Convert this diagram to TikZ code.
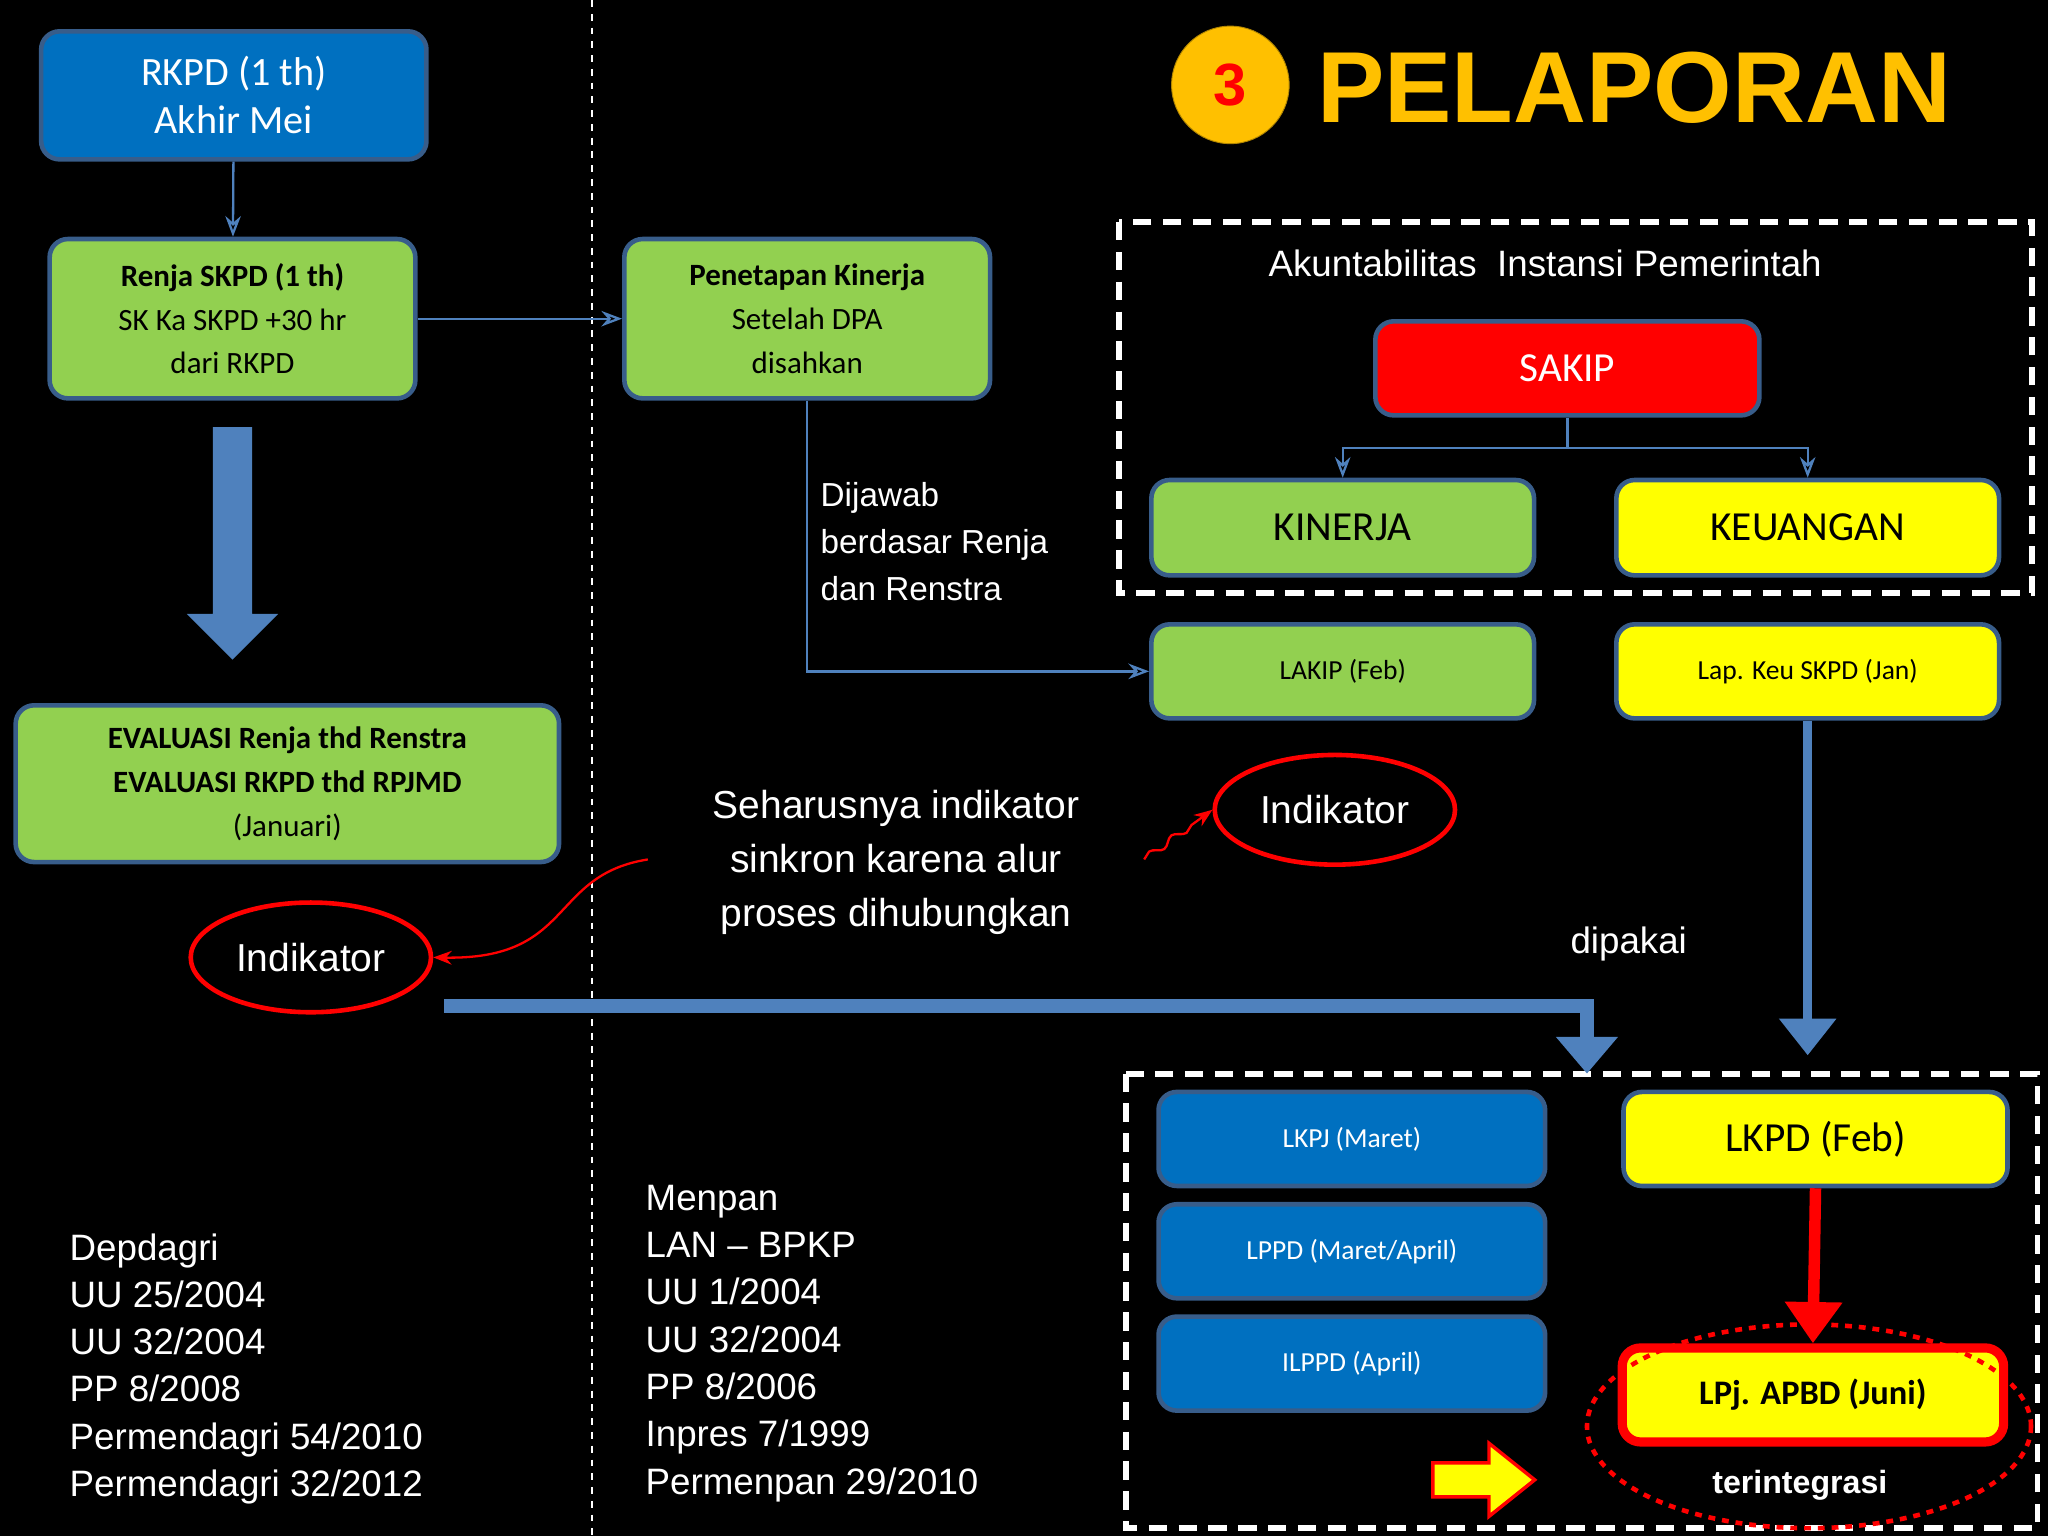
\documentclass[tikz,border=0pt]{standalone}
\usepackage{fontspec}
\setmainfont{Liberation Sans}
\newfontfamily\carl{Carlito}
\usetikzlibrary{arrows.meta,shapes.geometric,decorations.pathmorphing}
\definecolor{bblue}{RGB}{0,112,192}
\definecolor{lgreen}{RGB}{146,208,80}
\definecolor{sblue}{RGB}{79,129,189}
\definecolor{bord}{RGB}{56,93,138}
\definecolor{ylw}{RGB}{255,255,0}
\definecolor{gold}{RGB}{255,192,0}
\tikzset{
 box/.style={draw=bord,line width=2pt,rounded corners=8pt,inner sep=0pt,align=center,font=\carl},
 thin/.style={draw=sblue,line width=1pt,-{Stealth[length=9pt,open]}},
 lbl/.style={text=white,font=\fontsize{16}{20}\selectfont,align=left,anchor=north west,inner sep=0pt},
}
\begin{document}
\begin{tikzpicture}[x=0.02cm,y=-0.02cm]
\fill[black] (0,0) rectangle (1568,1176);
\useasboundingbox (0,0) rectangle (1568,1176);
\draw[white,dashed,line width=1pt] (453,0) -- (453,1176);
% left column
\node[box,fill=bblue,text=white,minimum width=295*0.02cm,minimum height=98*0.02cm,font=\carl\fontsize{17.5}{21}\selectfont] (rkpd) at (179,73) {RKPD (1 th)\\Akhir Mei};
\node[box,fill=lgreen,minimum width=280*0.02cm,minimum height=122*0.02cm,font=\carl\fontsize{13.5}{19}\selectfont] (renja) at (178,244) {\textbf{Renja SKPD (1 th)}\\SK Ka SKPD +30 hr\\dari RKPD};
\draw[thin] (rkpd) -- (renja);
\fill[sblue] (163,327) -- (193,327) -- (193,470) -- (213,470) -- (178,505) -- (143,470) -- (163,470) -- cycle;
\node[box,fill=lgreen,minimum width=416*0.02cm,minimum height=120*0.02cm,font=\carl\fontsize{13.5}{19}\selectfont] (eval) at (220,600) {\textbf{EVALUASI Renja thd Renstra}\\\textbf{EVALUASI RKPD thd RPJMD}\\(Januari)};
\node[ellipse,draw=red,line width=2pt,minimum width=184*0.02cm,minimum height=84*0.02cm,text=white,font=\fontsize{17}{20}\selectfont] (ind1) at (238,733) {Indikator};
% middle
\node[box,fill=lgreen,minimum width=280*0.02cm,minimum height=122*0.02cm,font=\carl\fontsize{13.5}{19}\selectfont] (pen) at (618,244) {\textbf{Penetapan Kinerja}\\Setelah DPA\\disahkan};
\draw[thin] (renja) -- (pen);
\node[lbl,font=\fontsize{14.5}{20.5}\selectfont] (dij) at (628,369) {Dijawab\\berdasar Renja\\dan Renstra};
\node[text=white,align=center,font=\fontsize{17}{23.5}\selectfont] (seh) at (686,660) {Seharusnya indikator\\sinkron karena alur\\proses dihubungkan};
% title
\node[circle,fill=gold,draw=gold!70!black,minimum size=90*0.02cm,text=red,font=\bfseries\fontsize{26}{30}\selectfont] (c3) at (942,65) {3};
\node[anchor=west,text=gold,font=\bfseries\fontsize{44}{50}\selectfont,inner sep=0pt] (title) at (1008,67) {PELAPORAN};
% upper right
\draw[white,dashed,line width=2.5pt,dash pattern=on 8pt off 5pt] (857,170) rectangle (1556,454);
\node[text=white,font=\fontsize{16}{20}\selectfont] (akt) at (1183,202) {Akuntabilitas\ \ Instansi Pemerintah};
\node[box,fill=red,text=white,minimum width=294*0.02cm,minimum height=72*0.02cm,font=\carl\fontsize{18}{21}\selectfont] (sakip) at (1200,282) {SAKIP};
\node[box,fill=lgreen,minimum width=293*0.02cm,minimum height=73*0.02cm,font=\carl\fontsize{18}{21}\selectfont] (kin) at (1028,404) {KINERJA};
\node[box,fill=ylw,minimum width=293*0.02cm,minimum height=73*0.02cm,font=\carl\fontsize{18}{21}\selectfont] (keu) at (1384,404) {KEUANGAN};
\coordinate (sj) at (1200,343);
\draw[sblue,line width=1pt] (sakip) -- (sj);
\draw[thin] (sj) -| (kin);
\draw[thin] (sj) -| (keu);
\node[box,fill=lgreen,minimum width=293*0.02cm,minimum height=72*0.02cm,font=\carl\fontsize{12}{15}\selectfont] (lakip) at (1028,514) {LAKIP (Feb)};
\node[box,fill=ylw,minimum width=293*0.02cm,minimum height=72*0.02cm,font=\carl\fontsize{12}{15}\selectfont] (lapkeu) at (1384,514) {Lap. Keu SKPD (Jan)};
\draw[thin] (pen.south) |- (lakip.west);
\node[ellipse,draw=red,line width=2pt,minimum width=184*0.02cm,minimum height=84*0.02cm,text=white,font=\fontsize{17}{20}\selectfont] (ind2) at (1022,620) {Indikator};
\node[text=white,font=\fontsize{16}{20}\selectfont] (dip) at (1247,723) {dipakai};
% lower right
\draw[white,dashed,line width=2.5pt,dash pattern=on 8pt off 5pt] (862,822) rectangle (1560,1170);
\node[box,fill=bblue,text=white,minimum width=296*0.02cm,minimum height=72*0.02cm,font=\carl\fontsize{12}{15}\selectfont] (lkpj) at (1035,872) {LKPJ (Maret)};
\node[box,fill=bblue,text=white,minimum width=296*0.02cm,minimum height=72*0.02cm,font=\carl\fontsize{12}{15}\selectfont] (lppd) at (1035,958) {LPPD (Maret/April)};
\node[box,fill=bblue,text=white,minimum width=296*0.02cm,minimum height=72*0.02cm,font=\carl\fontsize{12}{15}\selectfont] (ilppd) at (1035,1044) {ILPPD (April)};
\node[box,fill=ylw,minimum width=294*0.02cm,minimum height=72*0.02cm,font=\carl\fontsize{18}{21}\selectfont] (lkpd) at (1390,872) {LKPD (Feb)};
\node[box,fill=ylw,draw=red,line width=4pt,minimum width=292*0.02cm,minimum height=72*0.02cm,font=\carl\bfseries\fontsize{15}{18}\selectfont] (lpj) at (1388,1068) {LPj. APBD (Juni)};
\draw[red,line width=5pt,-{Triangle[length=18pt,width=24pt]}] (lkpd.south) -- (lpj.north);
\node[ellipse,draw=red,dashed,line width=2pt,minimum width=340*0.02cm,minimum height=156*0.02cm] (eli) at (1385,1092) {};
\node[text=white,font=\bfseries\fontsize{14}{17}\selectfont] (ter) at (1378,1137) {terintegrasi};
\fill[ylw,draw=red,line width=1.5pt] (1097,1120) -- (1140,1120) -- (1140,1105) -- (1175,1133) -- (1140,1161) -- (1140,1146) -- (1097,1146) -- cycle;
% thick blue connectors
\coordinate (bl1) at (340,770);
\coordinate (bl2) at (1215,770);
\coordinate (bl3) at (1215,822);
\draw[sblue,line width=6pt,-{Triangle[length=16pt,width=26pt]}] (bl1) -- (bl2) -- (bl3);
\coordinate (dk) at (1384,808);
\draw[sblue,line width=4pt,-{Triangle[length=16pt,width=24pt]}] (lapkeu.south) -- (dk);
% red curvy arrows
\coordinate (s1) at (496,658);
\coordinate (s2) at (876,658);
\draw[red,line width=1pt,-{Stealth[length=8pt]}] (s1) .. controls (420,670) and (440,735) .. (ind1.east);
\draw[red,line width=1pt,-{Stealth[length=8pt]},decorate,decoration={snake,amplitude=1.5pt,segment length=12pt,post length=6pt}] (s2) -- (ind2.west);
% lists
\node[lbl,font=\fontsize{16}{20.6}\selectfont] (dep) at (53,944) {Depdagri\\UU 25/2004\\UU 32/2004\\PP 8/2008\\Permendagri 54/2010\\Permendagri 32/2012};
\node[lbl,font=\fontsize{16}{20.6}\selectfont] (men) at (494,907) {Menpan\\LAN -- BPKP\\UU 1/2004\\UU 32/2004\\PP 8/2006\\Inpres 7/1999\\Permenpan 29/2010};
\end{tikzpicture}
\end{document}
